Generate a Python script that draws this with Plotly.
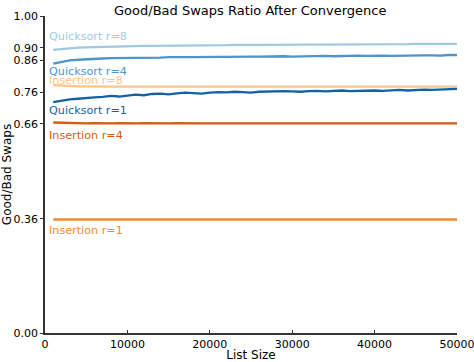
import plotly.graph_objects as go

list_size = list(range(1000, 50001, 1000))

quicksort_r8 = [0.893,0.896,0.898,0.900,0.901,0.902,0.903,0.904,0.904,0.905,
                0.905,0.906,0.906,0.906,0.907,0.907,0.907,0.908,0.907,0.908,
                0.908,0.908,0.909,0.908,0.909,0.909,0.909,0.909,0.910,0.909,
                0.910,0.910,0.910,0.910,0.910,0.911,0.910,0.911,0.911,0.910,
                0.911,0.911,0.911,0.911,0.912,0.911,0.912,0.912,0.912,0.912]
quicksort_r4 = [0.850,0.856,0.860,0.862,0.864,0.865,0.866,0.867,0.867,0.868,
                0.868,0.869,0.868,0.869,0.870,0.869,0.870,0.870,0.871,0.870,
                0.871,0.871,0.872,0.871,0.872,0.872,0.873,0.872,0.873,0.872,
                0.873,0.874,0.873,0.874,0.873,0.874,0.874,0.875,0.874,0.875,
                0.875,0.874,0.875,0.876,0.875,0.876,0.876,0.875,0.877,0.877]
insertion_r8 = [0.782,0.780,0.779,0.778,0.778,0.777,0.778,0.777,0.777,0.778,
                0.777,0.777,0.778,0.777,0.777,0.777,0.778,0.777,0.777,0.777,
                0.778,0.777,0.777,0.777,0.777,0.778,0.777,0.777,0.777,0.777,
                0.778,0.777,0.777,0.777,0.777,0.777,0.778,0.777,0.777,0.777,
                0.777,0.778,0.777,0.777,0.777,0.777,0.777,0.778,0.777,0.777]
quicksort_r1 = [0.728,0.733,0.737,0.739,0.740,0.743,0.745,0.748,0.746,0.750,
                0.752,0.750,0.754,0.755,0.753,0.756,0.758,0.757,0.755,0.758,
                0.760,0.759,0.761,0.760,0.758,0.761,0.762,0.761,0.763,0.762,
                0.761,0.763,0.764,0.762,0.764,0.765,0.763,0.764,0.766,0.765,
                0.764,0.766,0.767,0.765,0.767,0.768,0.767,0.768,0.769,0.770]
insertion_r4 = [0.664,0.663,0.662,0.662,0.661,0.662,0.661,0.661,0.662,0.661,
                0.661,0.662,0.661,0.661,0.661,0.662,0.661,0.661,0.661,0.661,
                0.662,0.661,0.661,0.661,0.660,0.661,0.661,0.662,0.661,0.661,
                0.661,0.661,0.662,0.661,0.661,0.661,0.661,0.661,0.662,0.661,
                0.661,0.661,0.661,0.662,0.661,0.661,0.661,0.661,0.661,0.661]
insertion_r1 = [0.358,0.358,0.359,0.358,0.358,0.358,0.359,0.358,0.358,0.358,
                0.358,0.359,0.358,0.358,0.358,0.358,0.358,0.359,0.358,0.358,
                0.358,0.357,0.358,0.358,0.358,0.359,0.358,0.358,0.358,0.358,
                0.358,0.358,0.359,0.358,0.358,0.358,0.358,0.358,0.358,0.359,
                0.358,0.358,0.358,0.358,0.358,0.358,0.359,0.358,0.358,0.358]

series_names = ["Quicksort r=8", "Quicksort r=4", "Insertion r=8",
                "Quicksort r=1", "Insertion r=4", "Insertion r=1"]
series_values = [quicksort_r8, quicksort_r4, insertion_r8,
                 quicksort_r1, insertion_r4, insertion_r1]
colors = ["#9ecae1", "#4f94cd", "#fdc48a", "#1561a4", "#d95a0e", "#f5892e"]
label_y = [0.934, 0.825, 0.797, 0.701, 0.622, 0.322]

y_ticks = [0.0, 0.36, 0.66, 0.76, 0.86, 0.90, 1.0]
x_ticks = [0, 10000, 20000, 30000, 40000, 50000]

FONT = "DejaVu Sans"
fig = go.Figure()
for name, vals, c in zip(series_names, series_values, colors):
    fig.add_trace(go.Scatter(x=list_size, y=vals, mode="lines",
                             line=dict(color=c, width=2.3), name=name,
                             showlegend=False))
for name, ly, c in zip(series_names, label_y, colors):
    fig.add_annotation(x=300, y=ly, text=name, showarrow=False,
                       xanchor="left", yanchor="middle",
                       font=dict(family=FONT, size=11.2, color=c))

fig.update_layout(
    width=474, height=362,
    margin=dict(l=45, r=17, t=16, b=29),
    paper_bgcolor="white", plot_bgcolor="white",
    font=dict(family=FONT, size=11, color="black"),
    title=dict(text="Good/Bad Swaps Ratio After Convergence",
               x=0.528, xanchor="center", y=0.972, yanchor="middle",
               font=dict(family=FONT, size=13, color="black")),
)
fig.update_xaxes(range=[0, 50000], tickvals=x_ticks,
                 ticktext=[str(v) for v in x_ticks],
                 showgrid=False, zeroline=False, showline=True,
                 linecolor="#333", linewidth=1.5, ticks="inside",
                 ticklen=3, tickcolor="#333", automargin=False,
                 ticklabeloverflow="allow",
                 title=dict(text="List Size", standoff=0,
                            font=dict(family=FONT, size=12)))
fig.update_yaxes(range=[0, 1], tickvals=y_ticks,
                 ticktext=[f"{v:.2f}" for v in y_ticks],
                 showgrid=False, zeroline=False, showline=True,
                 linecolor="#333", linewidth=1.5, ticks="outside",
                 ticklen=3, tickcolor="#333", automargin=False,
                 title=dict(text="Good/Bad Swaps", standoff=2,
                            font=dict(family=FONT, size=12)))

fig.write_html("out.html",
               config={"displayModeBar": False},
               post_script="document.body.style.margin='0';")
